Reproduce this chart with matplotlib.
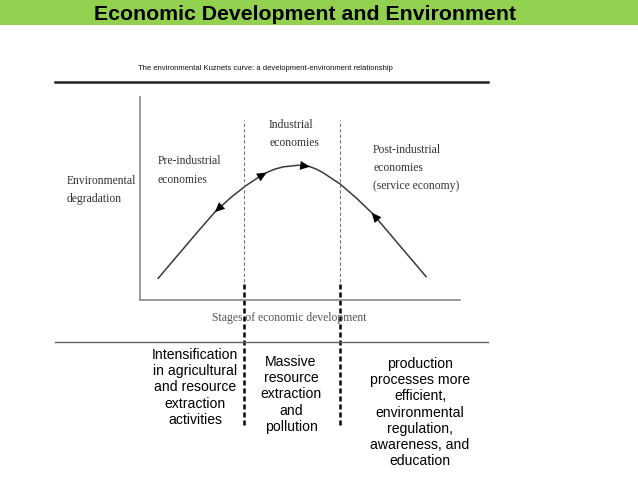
import numpy as np
import matplotlib.pyplot as plt
from matplotlib.lines import Line2D
from matplotlib.patches import Rectangle

# curve (stage of development vs. degradation, arbitrary units)
stage = [0.57, 0.94, 1.35, 1.77, 2.34, 2.81, 3.28, 3.65, 3.96, 4.2, 4.48, 4.95,
         5.31, 5.52, 5.73, 6.25, 6.77, 7.24, 7.71, 8.23, 8.65, 8.94]
degradation = [1.07, 1.76, 2.52, 3.30, 4.33, 5.01, 5.60, 5.99, 6.28, 6.44, 6.56, 6.64,
               6.57, 6.44, 6.26, 5.72, 5.01, 4.30, 3.44, 2.47, 1.69, 1.15]
boundary_x = [3.25, 6.25]
arrow_x = [2.34, 3.96, 5.31, 7.24]
arrow_dir = [-1, 1, 1, -1]

title = 'Economic Development and Environment'
subtitle = 'The environmental Kuznets curve: a development-environment relationship'
stage_names = ['Pre-industrial\neconomies', 'Industrial\neconomies',
               'Post-industrial\neconomies\n(service economy)']
notes = ['Intensification\nin agricultural\nand resource\nextraction\nactivities',
         'Massive\nresource\nextraction\nand\npollution',
         'production\nprocesses more\nefficient,\nenvironmental\nregulation,\nawareness, and\neducation']

W, H = 638, 478
fig = plt.figure(figsize=(W / 100, H / 100), dpi=100)


def px(x, y):
    return x / W, 1 - y / H


# green title bar
fig.add_artist(Rectangle((0, 1 - 25 / H), 1, 25 / H, transform=fig.transFigure,
                         color='#92d050', lw=0))
fig.text(*px(305, 14), title, ha='center', va='center', fontsize=15.3,
         fontweight='bold', family='Liberation Sans', color='black')

fig.text(*px(265, 69), subtitle, ha='center', va='center', fontsize=5.5,
         family='Liberation Sans', color='#111111')
fig.add_artist(Line2D([55 / W, 488 / W], [1 - 82 / H] * 2, transform=fig.transFigure,
                      color='#222222', lw=1.8))
fig.add_artist(Line2D([55 / W, 488 / W], [1 - 342 / H] * 2, transform=fig.transFigure,
                      color='#666666', lw=1.0))

# chart area
ax = fig.add_axes([140 / W, 1 - 300 / H, 320 / W, 203 / H])
ax.set_xlim(0, 10)
ax.set_ylim(0, 10)
for s in ['top', 'right']:
    ax.spines[s].set_visible(False)
for s in ['left', 'bottom']:
    ax.spines[s].set_color('#8a8a8a')
    ax.spines[s].set_linewidth(1.2)
ax.set_xticks([])
ax.set_yticks([])
ax.patch.set_alpha(0)

ax.plot(stage, degradation, color='#3a3a3a', lw=1.1, solid_joinstyle='round')

# thin dashed stage boundaries, and the thick dashed ones going down into the notes
ax.vlines(boundary_x, 0.89, 8.85, colors='#777777', lw=0.8, linestyles=(0, (3, 2)))
ax.vlines(boundary_x, -6.16, 0.89, colors='black', lw=1.8, linestyles=(0, (2, 1.2)),
          clip_on=False)

# small arrowheads on the curve
for xa, d in zip(arrow_x, arrow_dir):
    ya = np.interp(xa, stage, degradation)
    xb = xa - 0.3 * d
    yb = np.interp(xb, stage, degradation)
    ax.annotate('', xy=(xa, ya), xytext=(xb, yb),
                arrowprops=dict(arrowstyle='-|>,head_length=0.7,head_width=0.32',
                                color='black', lw=0.01, shrinkA=0, shrinkB=0))

serif = 'Liberation Serif'
tc = '#333333'
fig.text(*px(67, 190), 'Environmental\ndegradation', ha='left', va='center',
         fontsize=8.4, family=serif, color=tc, linespacing=1.7)
fig.text(*px(158, 170.5), stage_names[0], ha='left', va='center', fontsize=8.4,
         family=serif, color=tc, linespacing=1.75)
fig.text(*px(269, 134), stage_names[1], ha='left', va='center', fontsize=8.4,
         family=serif, color=tc, linespacing=1.7)
fig.text(*px(373, 168), stage_names[2], ha='left', va='center', fontsize=8.4,
         family=serif, color=tc, linespacing=1.7)
fig.text(*px(289, 318), 'Stages of economic development', ha='center', va='center',
         fontsize=8.4, family=serif, color='#555555')

# notes under the chart
for cx, top, txt in zip([195, 291, 420], [348, 355, 357], notes):
    fig.text(*px(cx, top), txt, ha='center', va='top', fontsize=10.1,
             family='Liberation Sans', color='black', linespacing=1.2)

fig.savefig('out.png', dpi=100)
